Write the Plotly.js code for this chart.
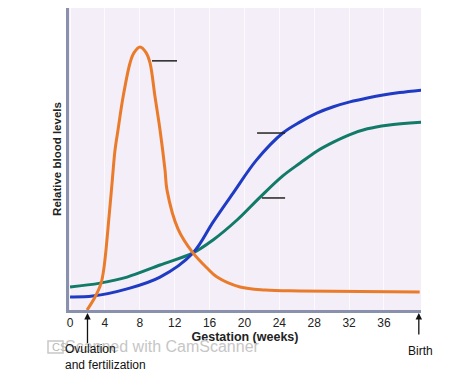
<!DOCTYPE html>
<html>
<head>
<meta charset="utf-8">
<script src="https://cdn.plot.ly/plotly-3.0.1.min.js"></script>
<style>
html,body{margin:0;padding:0;background:#fff;}
#chart{width:474px;height:372px;}
</style>
</head>
<body>
<div id="chart"></div>
<script>
// Weeks of gestation and relative blood levels
const orangeWeeks = [1.95, 2.87, 3.56, 3.9, 4.47, 4.82, 5.16, 5.5, 6.08, 6.88, 7.34, 8.03, 8.72, 9.17, 9.75, 10.32, 10.89, 11.12, 12.39, 14.1, 15.71, 16.86, 19.5, 22.4, 26.4, 40.1];
const orangeVals  = [0, 4.3, 8.9, 14.2, 30.8, 42.1, 53.0, 59.6, 70.5, 81.8, 85.2, 87.1, 85.2, 81.8, 70.5, 59.6, 46.4, 39.7, 26.8, 18.9, 13.9, 10.9, 7.6, 6.6, 6.3, 6.0];

const greenWeeks = [0, 3.44, 6.54, 10.32, 14.1, 16.4, 19.15, 21.8, 24.4, 26.4, 28.3, 30.2, 32.1, 34.1, 36.4, 40.3];
const greenVals  = [7.6, 8.9, 10.9, 14.9, 18.9, 23.2, 29.8, 37.4, 44.4, 48.7, 52.6, 55.6, 58.1, 60.0, 61.2, 62.2];

const blueWeeks = [0, 2.6, 6.54, 10.32, 14.1, 16.4, 18.7, 21.4, 24.4, 26.4, 28.3, 30.2, 32.1, 34.1, 35.9, 37.8, 40.3];
const blueVals  = [4.3, 4.6, 7.0, 10.9, 18.9, 29.1, 38.7, 49.7, 58.6, 62.3, 65.2, 67.3, 68.9, 70.2, 71.2, 72.0, 72.8];

const tickWeeks = [0, 4, 8, 12, 16, 20, 24, 28, 32, 36];
const tickLabels = ['0', '4', '8', '12', '16', '20', '24', '28', '32', '36'];

const ovulationWeek = 2;
const birthWeek = 40;

const FONT = 'Liberation Sans, Arial, sans-serif';

function series(x, y, color) {
  return {x: x, y: y, type: 'scatter', mode: 'lines',
          line: {color: color, width: 3, shape: 'spline', smoothing: 1},
          hoverinfo: 'skip', showlegend: false};
}

const data = [
  series(greenWeeks, greenVals, '#127a68'),
  series(blueWeeks, blueVals, '#1f3bc4'),
  series(orangeWeeks, orangeVals, '#ea7b2b')
];

const pointerLine = (x0, x1, y) => ({type: 'line', xref: 'x', yref: 'y', x0: x0, x1: x1, y0: y, y1: y,
                                    line: {color: '#222', width: 1.5}});

// pixel -> paper helpers for the text placed outside the plot
const px = v => (v - 69) / 352;
const py = v => (310 - v) / 302;

const layout = {
  width: 474, height: 372,
  margin: {l: 69, r: 53, t: 8, b: 62},
  paper_bgcolor: '#ffffff',
  plot_bgcolor: '#f3eef7',
  xaxis: {
    range: [-0.12, 40.25], tickvals: tickWeeks, ticktext: tickLabels,
    showgrid: true, gridcolor: 'rgba(255,255,255,0.7)', gridwidth: 1,
    zeroline: false, showline: true, linecolor: '#8a91ad', linewidth: 3,
    ticks: '', tickfont: {family: FONT, size: 12, color: '#222'},
    title: {text: '<b>Gestation (weeks)</b>', font: {family: FONT, size: 12.5, color: '#222'}, standoff: 2}
  },
  yaxis: {
    range: [0, 100], showticklabels: false, ticks: '', showgrid: false,
    zeroline: false, showline: true, linecolor: '#8a91ad', linewidth: 3,
    title: {text: '<b>Relative blood levels</b>', font: {family: FONT, size: 11.5, color: '#222'}, standoff: 2}
  },
  shapes: [
    pointerLine(9.4, 12.27, 82.5),
    pointerLine(21.45, 24.66, 58.6),
    pointerLine(22.0, 24.66, 37.1),
    {type: 'rect', xref: 'paper', yref: 'paper', x0: px(48), x1: px(63), y0: py(353), y1: py(341),
     line: {color: '#c8c8c8', width: 1.5}, fillcolor: 'rgba(0,0,0,0)'}
  ],
  annotations: [
    {x: ovulationWeek, xref: 'x', y: py(313), yref: 'paper', text: '', showarrow: true,
     ax: 0, ay: 32, arrowhead: 2, arrowsize: 1, arrowwidth: 1.3, arrowcolor: '#111'},
    {x: birthWeek, xref: 'x', y: py(313), yref: 'paper', text: '', showarrow: true,
     ax: 0, ay: 23, arrowhead: 2, arrowsize: 1, arrowwidth: 1.3, arrowcolor: '#111'},
    {xref: 'paper', yref: 'paper', x: px(49.5), y: py(347), xanchor: 'left', yanchor: 'middle',
     text: 'CS', showarrow: false, font: {family: FONT, size: 11, color: '#b8b8b8'}},
    {xref: 'paper', yref: 'paper', x: px(63), y: py(346), xanchor: 'left', yanchor: 'middle',
     text: 'Scanned with CamScanner', showarrow: false,
     font: {family: FONT, size: 16, color: '#c6c6c6'}},
    {xref: 'paper', yref: 'paper', x: px(63), y: py(340), xanchor: 'left', yanchor: 'top',
     text: 'Ovulation<br>and fertilization', align: 'left', showarrow: false,
     font: {family: FONT, size: 12, color: '#111'}},
    {xref: 'paper', yref: 'paper', x: px(420), y: py(342), xanchor: 'center', yanchor: 'top',
     text: 'Birth', showarrow: false, font: {family: FONT, size: 12, color: '#111'}}
  ]
};

Plotly.newPlot('chart', data, layout, {staticPlot: true, displayModeBar: false});
</script>
</body>
</html>
